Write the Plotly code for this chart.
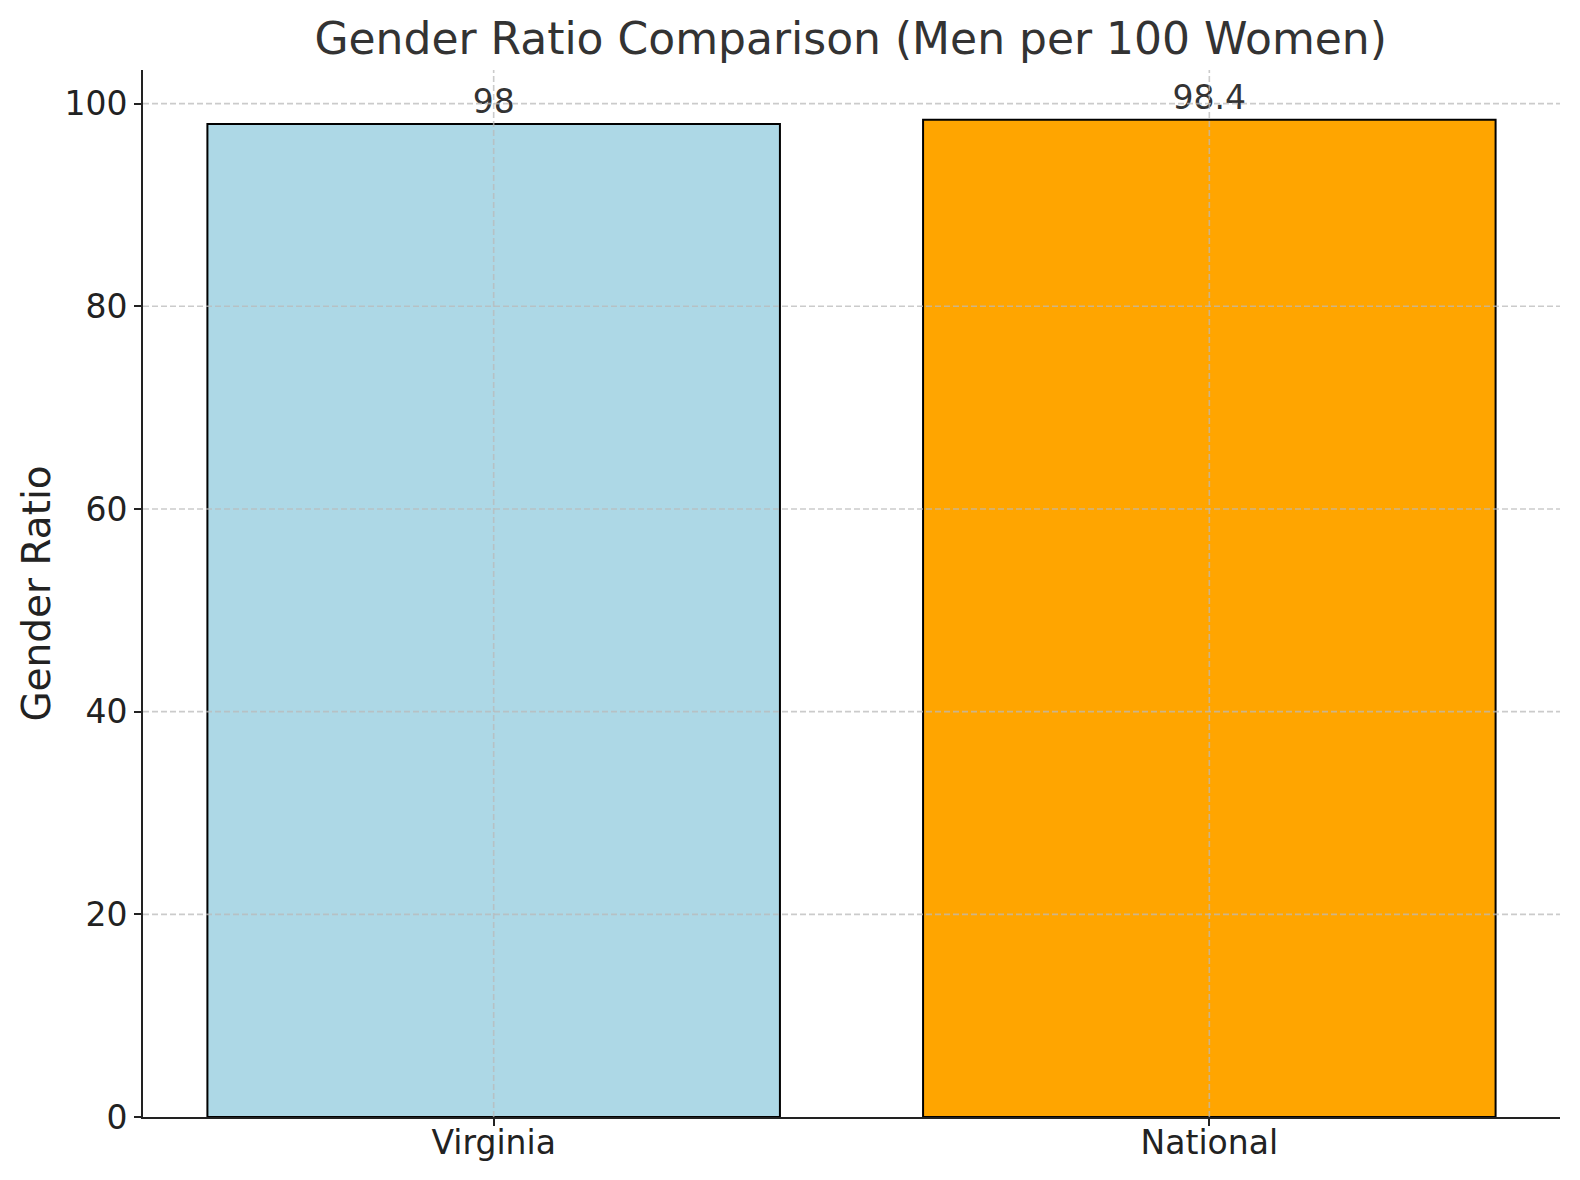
import plotly.graph_objects as go

regions = ["Virginia", "National"]
ratios = [98.0, 98.4]
bar_colors = ["#ADD8E6", "#FFA500"]
labels = ["98", "98.4"]
y_ticks = [0, 20, 40, 60, 80, 100]

FONT = "DejaVu Sans"
GRID = "rgba(185,185,185,0.75)"

fig = go.Figure()
fig.add_trace(go.Bar(
    x=[0, 1], y=ratios, width=0.8,
    marker=dict(color=bar_colors, line=dict(color="#000000", width=2)),
    text=labels, textposition="outside", cliponaxis=False,
    textfont=dict(family=FONT, size=33, color="#333333"),
    showlegend=False,
))

shapes = []
for t in y_ticks[1:]:
    shapes.append(dict(type="line", xref="paper", yref="y", x0=0, x1=1, y0=t, y1=t,
                       line=dict(color=GRID, width=1.6, dash="6px,3px"), layer="above"))
for i in range(len(regions)):
    shapes.append(dict(type="line", xref="x", yref="paper", x0=i, x1=i, y0=0, y1=1,
                       line=dict(color=GRID, width=1.6, dash="6px,3px"), layer="above"))

fig.update_layout(
    width=1580, height=1180,
    margin=dict(l=143, r=20, t=70, b=63),
    paper_bgcolor="white", plot_bgcolor="white",
    font=dict(family=FONT, color="#222222"),
    title=dict(text="Gender Ratio Comparison (Men per 100 Women)", x=0.5384, xanchor="center",
               y=0.967, yanchor="middle", font=dict(family=FONT, size=44, color="#333333")),
    shapes=shapes,
    bargap=0.2,
)
fig.update_xaxes(
    range=[-0.49, 1.49], tickmode="array", tickvals=[0, 1], ticktext=regions,
    showgrid=False, zeroline=False, showline=True, linecolor="#222222", linewidth=2,
    ticks="outside", ticklen=7, tickwidth=2, tickcolor="#222222",
    tickfont=dict(family=FONT, size=33, color="#222222"), ticklabelstandoff=-12,
)
fig.update_yaxes(
    range=[0, 103.32], tickmode="array", tickvals=y_ticks,
    showgrid=False, zeroline=False, showline=True, linecolor="#222222", linewidth=2,
    ticks="outside", ticklen=7, tickwidth=2, tickcolor="#222222",
    tickfont=dict(family=FONT, size=33, color="#222222"),
    title=dict(text="Gender Ratio", font=dict(family=FONT, size=39, color="#222222"), standoff=2),
)

fig.write_html("out.html")
